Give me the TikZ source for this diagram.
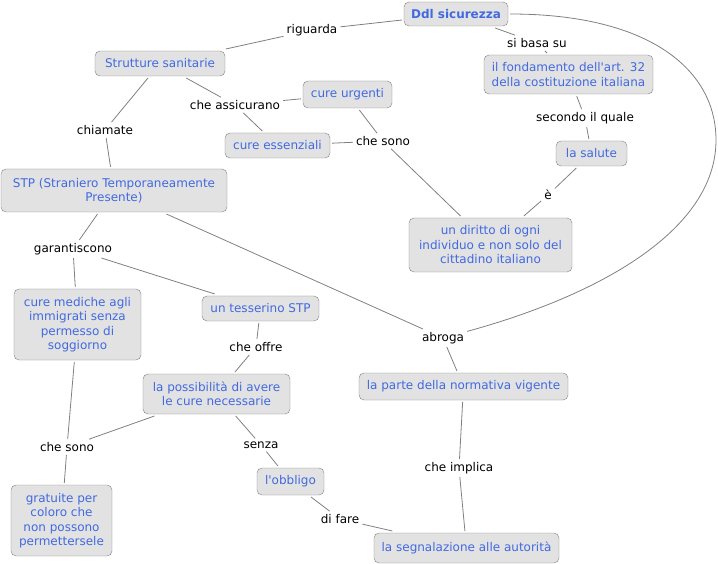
\documentclass[tikz,border=0pt]{standalone}
\usepackage{fontspec}
\setmainfont{DejaVu Sans}
\definecolor{boxfill}{RGB}{226,226,226}
\definecolor{bordergray}{RGB}{128,128,128}
\definecolor{cblue}{RGB}{65,105,225}
\definecolor{linegray}{RGB}{128,128,128}
\begin{document}
\begin{tikzpicture}[x=1pt,y=-1pt,
  concept/.style={draw=bordergray, fill=boxfill, rounded corners=5pt, text=cblue, align=center,
    font=\fontsize{12}{14.5}\selectfont, inner sep=2pt, outer sep=2pt},
  lbl/.style={font=\fontsize{12}{14.5}\selectfont, text=black, inner sep=3pt},
  link/.style={draw=linegray, line width=0.8pt}]
\useasboundingbox (0,0) rectangle (718,564);
% concepts
\node[concept, minimum width=104pt, minimum height=24pt] (ddl) at (456,14) {\textbf{Ddl sicurezza}};
\node[concept, minimum width=130pt, minimum height=25pt] (strut) at (160,63.5) {Strutture sanitarie};
\node[concept, minimum width=169pt, minimum height=39pt] (fond) at (568.5,74.5) {il fondamento dell\textquotesingle art. 32\\della costituzione italiana};
\node[concept, minimum width=89pt, minimum height=27pt] (urg) at (347.5,94.5) {cure urgenti};
\node[concept, minimum width=105pt, minimum height=25pt] (ess) at (277.5,145.5) {cure essenziali};
\node[concept, minimum width=71pt, minimum height=25pt] (salute) at (591.5,153.5) {la salute};
\node[concept, minimum width=226pt, minimum height=43pt] (stp) at (114,190.5) {STP (Straniero Temporaneamente\\Presente)};
\node[concept, minimum width=163pt, minimum height=54pt] (diritto) at (490.5,245) {un diritto di ogni\\individuo e non solo del\\cittadino italiano};
\node[concept, minimum width=127pt, minimum height=71pt] (mediche) at (77.5,324.5) {cure mediche agli\\immigrati senza\\permesso di\\soggiorno};
\node[concept, minimum width=117pt, minimum height=25pt] (tess) at (260.5,308.5) {un tesserino STP};
\node[concept, minimum width=147pt, minimum height=40pt] (poss) at (216.5,394) {la possibilità di avere\\le cure necessarie};
\node[concept, minimum width=209pt, minimum height=27pt] (parte) at (463.5,386.5) {la parte della normativa vigente};
\node[concept, minimum width=67pt, minimum height=27pt] (obbl) at (290.5,481.5) {l\textquotesingle obbligo};
\node[concept, minimum width=101pt, minimum height=71pt] (grat) at (61.5,520.5) {gratuite per\\coloro che\\non possono\\permettersele};
\node[concept, minimum width=185pt, minimum height=30pt] (segn) at (466.5,548) {la segnalazione alle autorità};
% linking phrases
\node[lbl] (riguarda) at (312,30) {riguarda};
\node[lbl] (basa) at (537,43) {si basa su};
\node[lbl] (assic) at (235,105) {che assicurano};
\node[lbl] (chiam) at (105,130) {chiamate};
\node[lbl] (sono1) at (383,141) {che sono};
\node[lbl] (second) at (585,118) {secondo il quale};
\node[lbl] (e) at (548,195) {è};
\node[lbl] (garant) at (73,249) {garantiscono};
\node[lbl] (abroga) at (443,338) {abroga};
\node[lbl] (offre) at (256,347) {che offre};
\node[lbl] (sono2) at (67,447) {che sono};
\node[lbl] (senza) at (261,445) {senza};
\node[lbl] (impl) at (459,468) {che implica};
\node[lbl] (difare) at (340,519) {di fare};
% connectors
\draw[link] (ddl) -- (riguarda);
\draw[link] (riguarda) -- (strut);
\draw[link] (ddl) -- (basa);
\draw[link] (basa) -- (fond);
\draw[link] (ddl.east) .. controls (650,14) and (716,70) .. (716,140) .. controls (716,230) and (600,295) .. (abroga);
\draw[link] (strut) -- (chiam);
\draw[link] (chiam) -- (stp);
\draw[link] (strut) -- (assic);
\draw[link] (assic) -- (urg);
\draw[link] (assic) -- (ess);
\draw[link] (urg) -- (sono1);
\draw[link] (ess) -- (sono1);
\draw[link] (sono1) -- (diritto);
\draw[link] (fond) -- (second);
\draw[link] (second) -- (salute);
\draw[link] (salute) -- (e);
\draw[link] (e) -- (diritto);
\draw[link] (stp) -- (garant);
\draw[link] (garant) -- (mediche);
\draw[link] (garant) -- (tess);
\draw[link] (stp) -- (abroga);
\draw[link] (abroga) -- (parte);
\draw[link] (tess) -- (offre);
\draw[link] (offre) -- (poss);
\draw[link] (mediche) -- (sono2);
\draw[link] (poss) -- (sono2);
\draw[link] (sono2) -- (grat);
\draw[link] (poss) -- (senza);
\draw[link] (senza) -- (obbl);
\draw[link] (obbl) -- (difare);
\draw[link] (difare) -- (segn);
\draw[link] (parte) -- (impl);
\draw[link] (impl) -- (segn);
\end{tikzpicture}
\end{document}
